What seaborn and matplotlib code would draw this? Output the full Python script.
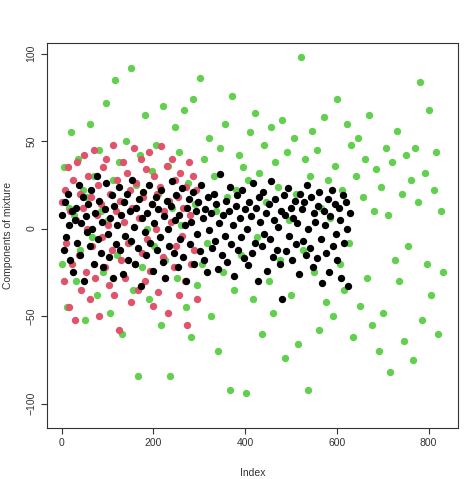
import matplotlib
matplotlib.use('Agg')
import matplotlib.pyplot as plt
import seaborn as sns
import pandas as pd

sns.set_style('ticks')
plt.rcParams['font.family'] = ['Liberation Sans', 'DejaVu Sans']

# component values read (approximately) from the picture
green_y = [-20, 35, -45, 12, 55, 8, -30, 40, -12, 22,
           -52, 18, 60, -5, 30, -38, 45, 10, -25, 72,
           5, -48, 28, 85, -15, 38, -60, 15, 50, -8,
           92, -35, 25, -84, 42, -22, 65, 0, -40, 33,
           -10, 48, 20, -55, 70, -18, 36, -84, 12, 58,
           -28, 44, 2, 68, -45, 26, -62, 74, 14, -32,
           86, -20, 40, -8, 52, -50, 30, 10, -70, 46,
           -25, 60, 18, -92, 76, -35, 22, 42, -15, 35,
           -94, 28, 55, -40, 66, -5, 32, -60, 48, 15,
           -30, 58, -48, 38, 24, -18, 62, -74, 44, 5,
           -38, 52, 20, -66, 98, -12, 40, -92, 30, 56,
           -25, 45, -58, 12, 64, -42, 28, 6, -50, 36,
           74, -20, 22, -35, 60, -8, 48, -62, 30, 52,
           -44, 18, 40, -28, 65, -55, 10, 34, -70, 24,
           -48, 46, 8, -82, 38, -18, 56, -30, 20, -64,
           42, -10, 28, -75, 46, 15, 84, -52, 32, -20,
           68, -38, 22, 44, -60, 10, -25]
green_x = list(range(1, 834, 5))

red_y = [15, -30, 22, -8, 35, -45, 10, -20, 28, -52,
         5, 38, -15, 20, -35, 12, 42, -25, 0, 30,
         -40, 18, -10, 45, -28, 8, 25, -50, 14, -5,
         35, -22, 40, 2, -32, 20, -12, 48, -38, 10,
         28, -58, 16, -18, 38, 4, -28, 32, -8, 22,
         -42, 12, 46, -20, 26, -35, 6, 40, -14, 18,
         -30, 34, -6, 44, -24, 14, -44, 30, 0, 20,
         -36, 24, 47, -16, 10, -28, 36, -48, 16, 4,
         40, -22, 28, -10, 18, -38, 32, -4, 12, -30,
         24, -55, 38, 8, -20, 30, -12, 22, -40, 15]
red_x = list(range(1, 299, 3))

black_y = [8, -12, 15, -5, 20, 2, -18, 10, -25, 5,
           12, -8, 25, -15, 3, 18, -30, 7, -2, 14,
           -10, 22, 0, -20, 9, 30, -6, 16, -14, 4,
           -22, 11, 26, -3, -16, 6, 19, -28, 13, -9,
           2, 24, -12, 8, -26, 15, -4, 20, -18, 10,
           -7, 28, 1, -20, 12, -11, 17, -33, 6, 21,
           -2, -15, 9, 25, -8, 14, -24, 3, 18, -12,
           11, -5, 22, -19, 7, -28, 16, 0, -10, 13,
           27, -14, 5, 19, -22, 8, -6, 23, -16, 2,
           -30, 12, 17, -9, 4, 21, -20, 10, -3, 15,
           -13, 25, 6, -18, 11, -25, 18, -1, 9, -11,
           20, -7, 14, -23, 3, 31, -15, 8, -4, 16,
           -19, 10, 24, -9, 2, -27, 13, 19, -12, 6,
           -5, 22, -17, 11, 0, -21, 15, 7, -14, 26,
           -8, 12, -30, 18, 4, -10, 21, -3, 9, -24,
           14, -6, 27, -16, 5, 17, -12, 1, -20, 10,
           -40, 19, 8, -13, 23, -4, 12, -18, 6, 16,
           -9, 3, -26, 20, 11, -7, 15, -15, 25, 0,
           -11, 18, -22, 9, 4, -17, 13, 21, -6, -31,
           10, 2, -14, 17, -25, 7, 22, -10, 14, -3,
           -18, 12, 5, -28, 19, -8, 15, 0, -33, 9]
black_x = list(range(1, 631, 3))

fig = plt.figure(figsize=(4.74, 4.79), dpi=100)
ax = fig.add_axes([47 / 474, 51 / 479, 411 / 474, 385 / 479])
for xs, ys, col in [(green_x, green_y, '#61D04F'), (red_x, red_y, '#DF536B'),
                    (black_x, black_y, 'black')]:
    sns.scatterplot(x=xs, y=ys, color=col, s=28, linewidth=0, ax=ax)

ax.set_xlim(-32, 864)
ax.set_ylim(-114, 106)
ax.set_xticks([0, 200, 400, 600, 800])
ax.set_yticks([-100, -50, 0, 50, 100])
ax.tick_params(labelsize=7.5, length=4, color='#333333', labelcolor='#333333')
for lab in ax.get_yticklabels():
    lab.set_rotation(90)
    lab.set_va('center')
for s in ax.spines.values():
    s.set_color('#333333')
    s.set_linewidth(0.8)
ax.set_xlabel('Index', fontsize=7.5, color='#333333', labelpad=14)
ax.set_ylabel('Components of mixture', fontsize=7.5, color='#333333', labelpad=10)
fig.savefig('out.png', dpi=100, facecolor='white')
